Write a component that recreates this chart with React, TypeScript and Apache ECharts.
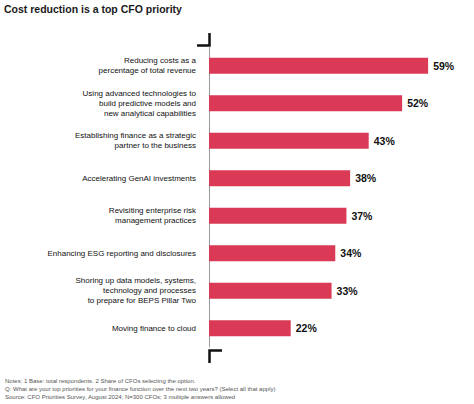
import React, { useEffect, useRef } from 'react';
import * as echarts from 'echarts';

const categories = [
  'Reducing costs as a\npercentage of total revenue',
  'Using advanced technologies to\nbuild predictive models and\nnew analytical capabilities',
  'Establishing finance as a strategic\npartner to the business',
  'Accelerating GenAI investments',
  'Revisiting enterprise risk\nmanagement practices',
  'Enhancing ESG reporting and disclosures',
  'Shoring up data models, systems,\ntechnology and processes\nto prepare for BEPS Pillar Two',
  'Moving finance to cloud',
];

const shares = [59, 52, 43, 38, 37, 34, 33, 22];

const title = 'Cost reduction is a top CFO priority';

const footnote = [
  'Notes: 1 Base: total respondents. 2 Share of CFOs selecting the option.',
  'Q: What are your top priorities for your finance function over the next two years? (Select all that apply)',
  'Source: CFO Priorities Survey, August 2024; N=300 CFOs; 3 multiple answers allowed',
];

const App: React.FC = () => {
  const chartRef = useRef<HTMLDivElement>(null);

  useEffect(() => {
    document.body.style.margin = '0';
    if (!chartRef.current) return;
    const chart = echarts.init(chartRef.current, undefined, { renderer: 'svg' });
    const font = '"Liberation Sans", Arial, sans-serif';
    chart.setOption({
      animation: false,
      textStyle: { fontFamily: font },
      grid: { left: 209, top: 47, width: 260, bottom: 57 },
      xAxis: {
        type: 'value',
        min: 0,
        max: 70,
        show: false,
      },
      yAxis: {
        type: 'category',
        data: categories,
        inverse: true,
        axisLine: { show: true, lineStyle: { color: '#9a9a9a', width: 1 } },
        axisTick: { show: false },
        axisLabel: {
          margin: 13,
          fontSize: 8,
          lineHeight: 10,
          color: '#111',
          align: 'right',
          fontFamily: font,
        },
      },
      series: [
        {
          type: 'bar',
          data: shares,
          barWidth: 16,
          itemStyle: { color: '#da3a56' },
          label: {
            show: true,
            position: 'right',
            distance: 5,
            formatter: '{c}%',
            fontSize: 10.5,
            fontWeight: 'bold',
            color: '#111',
            fontFamily: font,
          },
        },
      ],
      graphic: [
        {
          type: 'text',
          left: 4,
          top: 3,
          style: {
            text: title,
            fontSize: 10.5,
            fontWeight: 'bold',
            fill: '#1a1a1a',
            fontFamily: font,
          },
        },
        {
          type: 'polyline',
          shape: { points: [[197, 45.5], [209.5, 45.5], [209.5, 33]] },
          style: { stroke: '#111', lineWidth: 2.5, fill: 'none' },
        },
        {
          type: 'polyline',
          shape: { points: [[222, 350.5], [209.5, 350.5], [209.5, 363]] },
          style: { stroke: '#111', lineWidth: 2.5, fill: 'none' },
        },
        {
          type: 'text',
          left: 5,
          top: 377,
          style: {
            text: footnote.join('\n'),
            fontSize: 6,
            lineHeight: 8,
            fill: '#555',
            fontFamily: font,
          },
        },
      ],
    });
    return () => {
      chart.dispose();
    };
  }, []);

  return <div ref={chartRef} style={{ width: 474, height: 404 }} />;
};

export default App;
